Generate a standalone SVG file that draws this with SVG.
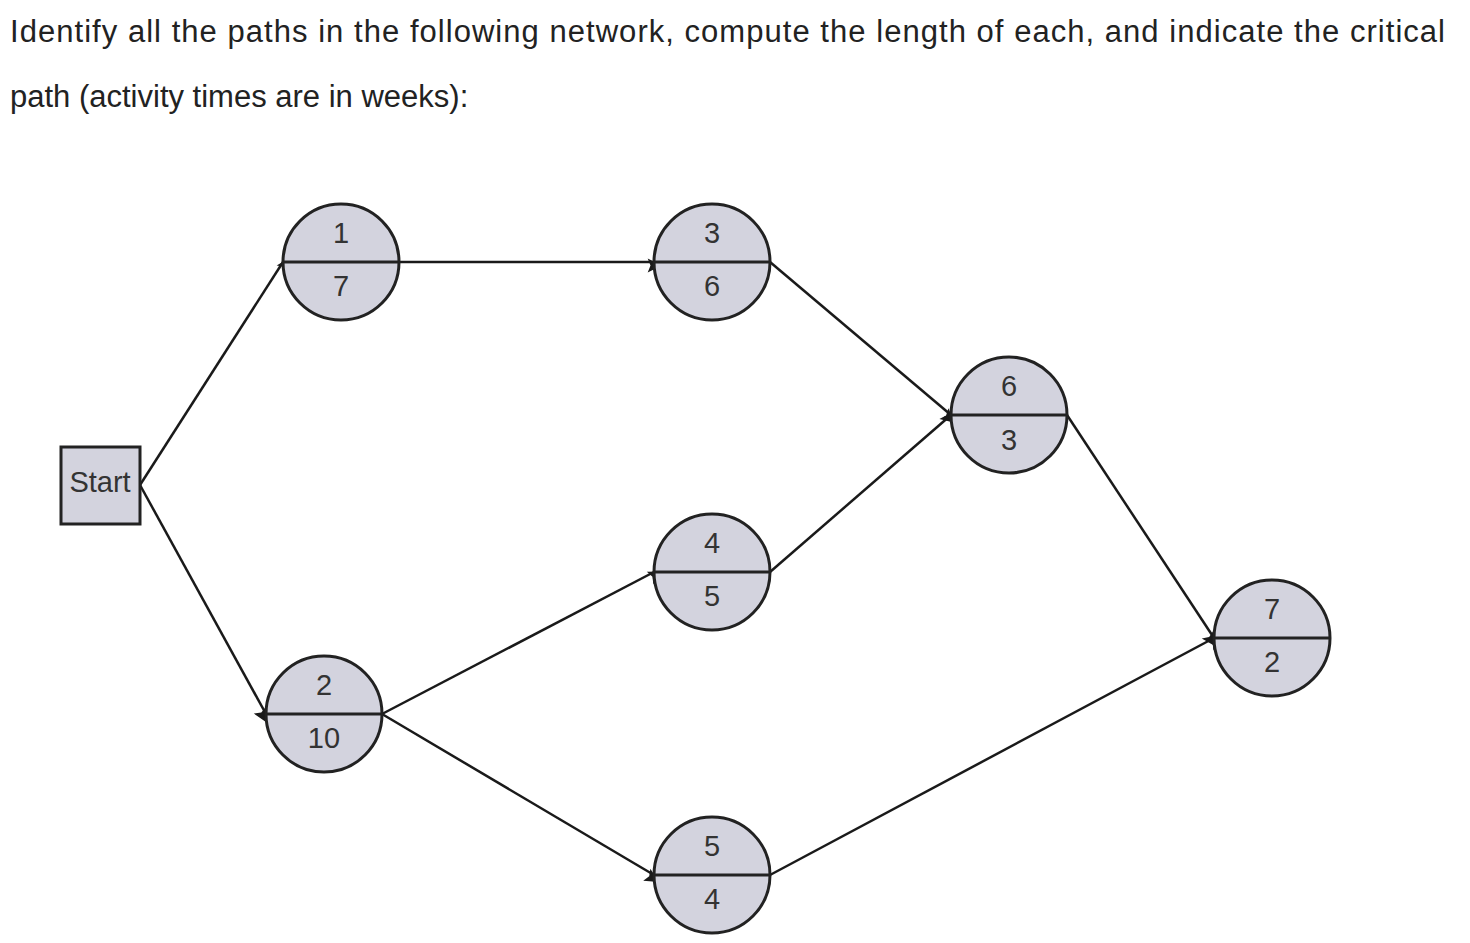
<svg xmlns="http://www.w3.org/2000/svg" width="1470" height="943" viewBox="0 0 1470 943">
<style>
.t{font-family:"Liberation Sans",Arial,sans-serif;font-size:31px;fill:#222}
.n circle{fill:#d3d3de;stroke:#222;stroke-width:3}
.n line{stroke:#222;stroke-width:3}
.n text{font-family:"Liberation Sans",Arial,sans-serif;font-size:29px;fill:#333;text-anchor:middle}
.e line{stroke:#1a1a1a;stroke-width:2.5;marker-end:url(#a)}
</style>
<defs><marker id="a" viewBox="0 0 10 10" refX="9" refY="5" markerWidth="7" markerHeight="7" orient="auto" markerUnits="userSpaceOnUse" style="overflow:visible"><path d="M0,0 L10,5 L0,10 L2,5 Z" fill="#1a1a1a" transform="scale(2)"/></marker></defs>
<rect width="1470" height="943" fill="#fff"/>
<text class="t" x="10" y="42" textLength="1435">Identify all the paths in the following network, compute the length of each, and indicate the critical</text>
<text class="t" x="10" y="107">path (activity times are in weeks):</text>
<g class="e">
<line x1="140" y1="485" x2="283" y2="262"/>
<line x1="140" y1="485" x2="266" y2="714"/>
<line x1="399" y1="262" x2="654" y2="262"/>
<line x1="770" y1="262" x2="951" y2="415"/>
<line x1="382" y1="714" x2="654" y2="572"/>
<line x1="382" y1="714" x2="654" y2="875"/>
<line x1="770" y1="572" x2="951" y2="415"/>
<line x1="1067" y1="415" x2="1214" y2="638"/>
<line x1="770" y1="875" x2="1214" y2="638"/>
</g>
<g id="start"><rect x="61" y="447" width="79" height="77" fill="#d3d3de" stroke="#222" stroke-width="3"/><text x="100" y="492" font-family="Liberation Sans,Arial,sans-serif" font-size="29" fill="#333" text-anchor="middle">Start</text></g>
<g id="n1" class="n"><circle cx="341" cy="262" r="58"/><line x1="283" y1="262" x2="399" y2="262"/><text x="341" y="243">1</text><text x="341" y="296">7</text></g>
<g id="n3" class="n"><circle cx="712" cy="262" r="58"/><line x1="654" y1="262" x2="770" y2="262"/><text x="712" y="243">3</text><text x="712" y="296">6</text></g>
<g id="n6" class="n"><circle cx="1009" cy="415" r="58"/><line x1="951" y1="415" x2="1067" y2="415"/><text x="1009" y="396">6</text><text x="1009" y="450">3</text></g>
<g id="n4" class="n"><circle cx="712" cy="572" r="58"/><line x1="654" y1="572" x2="770" y2="572"/><text x="712" y="553">4</text><text x="712" y="606">5</text></g>
<g id="n2" class="n"><circle cx="324" cy="714" r="58"/><line x1="266" y1="714" x2="382" y2="714"/><text x="324" y="695">2</text><text x="324" y="748">10</text></g>
<g id="n5" class="n"><circle cx="712" cy="875" r="58"/><line x1="654" y1="875" x2="770" y2="875"/><text x="712" y="856">5</text><text x="712" y="909">4</text></g>
<g id="n7" class="n"><circle cx="1272" cy="638" r="58"/><line x1="1214" y1="638" x2="1330" y2="638"/><text x="1272" y="619">7</text><text x="1272" y="672">2</text></g>
</svg>
